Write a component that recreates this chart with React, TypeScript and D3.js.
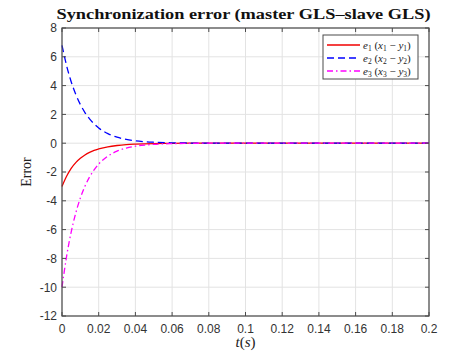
import React from "react";
import * as d3 from "d3";

const tValues = [0, 0.0025, 0.005, 0.0075, 0.01, 0.0125, 0.015, 0.0175, 0.02, 0.025, 0.03, 0.035, 0.04, 0.045, 0.05, 0.06, 0.07, 0.08, 0.1, 0.12, 0.14, 0.16, 0.18, 0.2];
const e1Values = [-3, -2.3, -1.75, -1.35, -1.05, -0.82, -0.64, -0.5, -0.4, -0.25, -0.16, -0.1, -0.065, -0.04, -0.025, -0.01, 0, 0, 0, 0, 0, 0, 0, 0];
const e2Values = [6.8, 5.39, 4.27, 3.39, 2.69, 2.13, 1.69, 1.34, 1.06, 0.66, 0.42, 0.26, 0.16, 0.1, 0.065, 0.025, 0.01, 0, 0, 0, 0, 0, 0, 0];
const e3Values = [-10, -7.86, -6.17, -4.85, -3.81, -2.99, -2.35, -1.85, -1.45, -0.9, -0.55, -0.34, -0.21, -0.13, -0.08, -0.03, -0.01, 0, 0, 0, 0, 0, 0, 0];
const xTicks = [0, 0.02, 0.04, 0.06, 0.08, 0.1, 0.12, 0.14, 0.16, 0.18, 0.2];
const yTicks = [-12, -10, -8, -6, -4, -2, 0, 2, 4, 6, 8];

const W = 474, H = 355;
const L = 62, R = 429, T = 28, B = 316;

export default function App() {
  const x = d3.scaleLinear().domain([0, 0.2]).range([L, R]);
  const y = d3.scaleLinear().domain([-12, 8]).range([B, T]);
  const line = (vals: number[]) =>
    d3.line<number>().x((_, i) => x(tValues[i])).y((v) => y(v)).curve(d3.curveMonotoneX)(vals) || "";

  const axisColor = "#4a4a4a";
  const tickFont = "'Liberation Sans', Arial, sans-serif";
  const serif = "'Liberation Serif', 'DejaVu Serif', serif";
  const series = [
    { vals: e1Values, color: "#f00000", dash: "", sub: "1" },
    { vals: e2Values, color: "#0000ff", dash: "7,4", sub: "2" },
    { vals: e3Values, color: "#ff00ff", dash: "6,3,1.5,3", sub: "3" },
  ];
  const tl = 4;
  const lgX = 323, lgY = 35, lgW = 95, lgH = 44;

  return (
    <svg width={W} height={H} style={{ position: "absolute", left: 0, top: 0, background: "#fff" }}>
      <rect x={0} y={0} width={W} height={H} fill="#fff" />
      {xTicks.map((t) => (
        <line key={"gx" + t} x1={x(t)} x2={x(t)} y1={T} y2={B} stroke="#e3e3e3" strokeWidth={1} />
      ))}
      {yTicks.map((t) => (
        <line key={"gy" + t} x1={L} x2={R} y1={y(t)} y2={y(t)} stroke="#e3e3e3" strokeWidth={1} />
      ))}
      {series.map((s, i) => (
        <path key={i} d={line(s.vals)} fill="none" stroke={s.color} strokeWidth={1.3} strokeDasharray={s.dash || undefined} />
      ))}
      <rect x={L} y={T} width={R - L} height={B - T} fill="none" stroke={axisColor} strokeWidth={1.2} />
      {xTicks.map((t) => (
        <g key={"tx" + t}>
          <line x1={x(t)} x2={x(t)} y1={B} y2={B - tl} stroke={axisColor} />
          <line x1={x(t)} x2={x(t)} y1={T} y2={T + tl} stroke={axisColor} />
          <text x={x(t)} y={B + 16.5} textAnchor="middle" fontSize={12} fontFamily={tickFont} fill="#333">
            {String(t)}
          </text>
        </g>
      ))}
      {yTicks.map((t) => (
        <g key={"ty" + t}>
          <line x1={L} x2={L + tl} y1={y(t)} y2={y(t)} stroke={axisColor} />
          <line x1={R} x2={R - tl} y1={y(t)} y2={y(t)} stroke={axisColor} />
          <text x={L - 5} y={y(t) + 4.3} textAnchor="end" fontSize={12} fontFamily={tickFont} fill="#333">
            {String(t)}
          </text>
        </g>
      ))}
      <text x={(L + R) / 2 - 2} y={19} textAnchor="middle" fontSize={15} fontWeight="bold" fontFamily={serif} fill="#111"
        textLength={374} lengthAdjust="spacingAndGlyphs">
        Synchronization error (master GLS–slave GLS)
      </text>
      <text x={(L + R) / 2} y={347} textAnchor="middle" fontSize={15} fontFamily={serif} fill="#222">
        <tspan fontStyle="italic">t</tspan>(<tspan fontStyle="italic">s</tspan>)
      </text>
      <text transform={`translate(31,${(T + B) / 2}) rotate(-90)`} textAnchor="middle" fontSize={14} fontFamily={serif} fill="#222">
        Error
      </text>
      <rect x={lgX} y={lgY} width={lgW} height={lgH} fill="#fff" stroke={axisColor} strokeWidth={1} />
      {series.map((s, i) => {
        const yy = lgY + 10 + i * 13;
        return (
          <g key={"lg" + i}>
            <line x1={lgX + 4} x2={lgX + 37} y1={yy} y2={yy} stroke={s.color} strokeWidth={1.3} strokeDasharray={s.dash || undefined} />
            <text x={lgX + 40} y={yy + 3.5} fontSize={11} fontFamily={serif} fill="#222">
              <tspan fontStyle="italic">e</tspan>
              <tspan fontSize={7.5} dy={2}>{s.sub}</tspan>
              <tspan dy={-2}> (</tspan>
              <tspan fontStyle="italic">x</tspan>
              <tspan fontSize={7.5} dy={2}>{s.sub}</tspan>
              <tspan dy={-2}> − </tspan>
              <tspan fontStyle="italic">y</tspan>
              <tspan fontSize={7.5} dy={2}>{s.sub}</tspan>
              <tspan dy={-2}>)</tspan>
            </text>
          </g>
        );
      })}
    </svg>
  );
}
